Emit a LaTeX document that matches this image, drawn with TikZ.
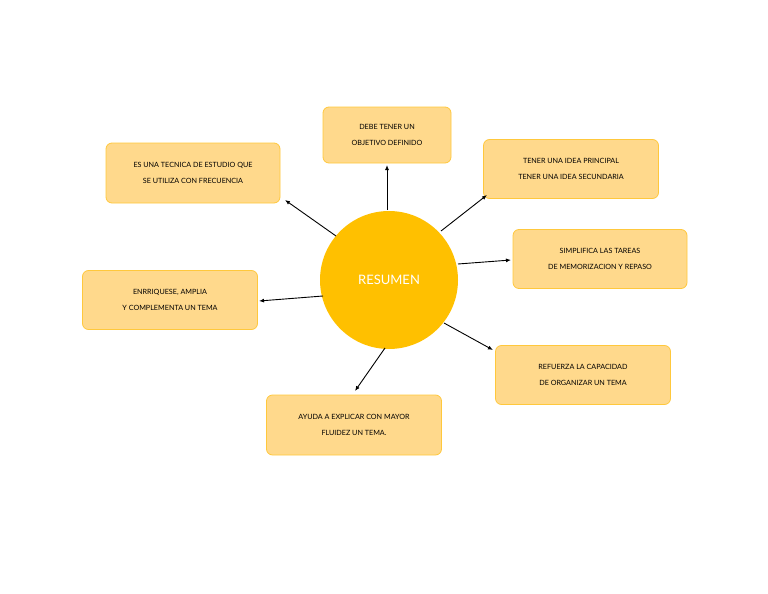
\documentclass[tikz,border=0pt]{standalone}
\usepackage{fontspec}
\setmainfont{Lato}
\usetikzlibrary{arrows.meta}
\definecolor{boxfill}{HTML}{FFD98C}
\definecolor{boxline}{HTML}{FFC83C}
\definecolor{circfill}{HTML}{FFC000}
\tikzset{
  box/.style={draw=boxline,fill=boxfill,rounded corners=6pt,line width=0.8pt,align=center,font=\fontsize{7.2}{16.5}\selectfont,inner sep=0pt},
  arr/.style={-{Latex[length=5pt,width=4pt]},line width=0.9pt,shorten <=1pt,shorten >=2pt}
}
\begin{document}
\begin{tikzpicture}[x=1pt,y=-1pt]
\useasboundingbox (0,0) rectangle (768,594);
\node[circle,fill=circfill,minimum size=138pt,inner sep=0pt,text=white,font=\fontsize{13}{15}\selectfont] (c) at (389,280) {RESUMEN};
\node[box,minimum width=128pt,minimum height=56pt] (b1) at (387,135) {DEBE TENER UN\\OBJETIVO DEFINIDO};
\node[box,minimum width=174pt,minimum height=60pt] (b2) at (193,173) {ES UNA TECNICA DE ESTUDIO QUE\\SE UTILIZA CON FRECUENCIA};
\node[box,minimum width=175pt,minimum height=59pt] (b3) at (571,169) {TENER UNA IDEA PRINCIPAL\\TENER UNA IDEA SECUNDARIA};
\node[box,minimum width=174pt,minimum height=59pt] (b4) at (600,259) {SIMPLIFICA LAS TAREAS\\DE MEMORIZACION Y REPASO};
\node[box,minimum width=175pt,minimum height=59pt] (b5) at (170,300) {ENRRIQUESE, AMPLIA\\Y COMPLEMENTA UN TEMA};
\node[box,minimum width=175pt,minimum height=59pt] (b6) at (583,375) {REFUERZA LA CAPACIDAD\\DE ORGANIZAR UN TEMA};
\node[box,minimum width=175pt,minimum height=60pt] (b7) at (354,425) {AYUDA A EXPLICAR CON MAYOR\\FLUIDEZ UN TEMA.};
\coordinate (s1) at (387,210); \coordinate (e1) at (387,165);
\coordinate (s2) at (336,236); \coordinate (e2) at (285,200);
\coordinate (s3) at (441,231); \coordinate (e3) at (487,195);
\coordinate (s4) at (458,264); \coordinate (e4) at (511,260);
\coordinate (s5) at (323,296); \coordinate (e5) at (259,301);
\coordinate (s6) at (444,323); \coordinate (e6) at (493,350);
\coordinate (s7) at (385,348); \coordinate (e7) at (355,391);
\foreach \i in {1,...,7} \draw[-{Latex[length=5pt,width=4pt]},line width=0.9pt] (s\i) -- (e\i);
\end{tikzpicture}
\end{document}
